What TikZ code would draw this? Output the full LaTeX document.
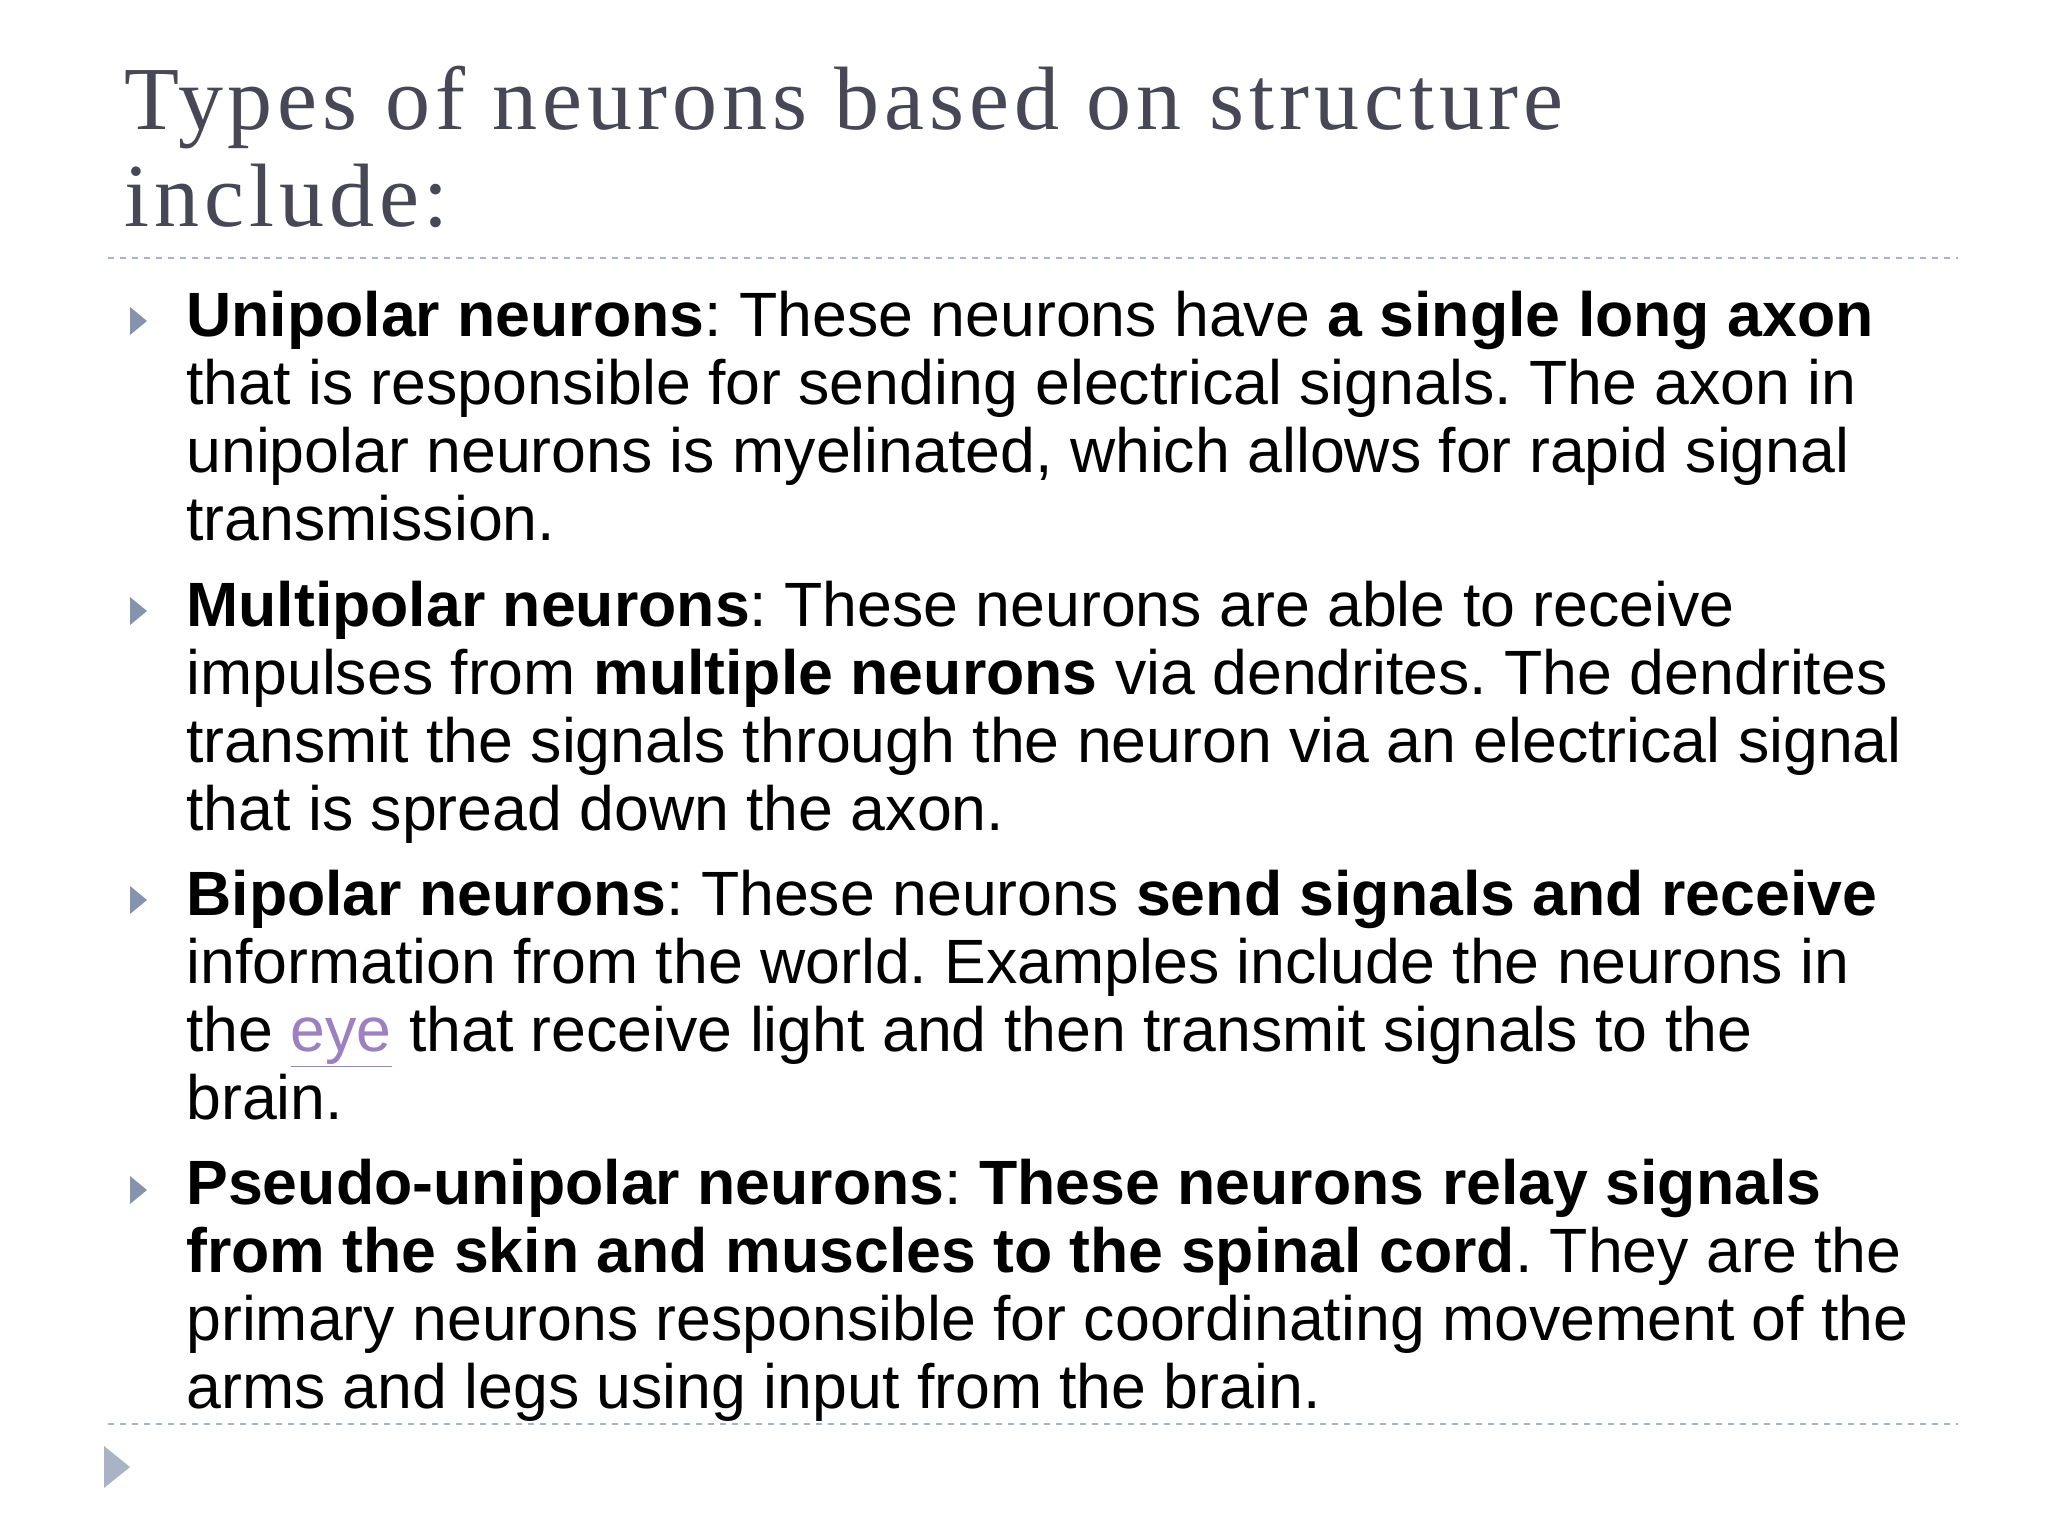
\documentclass[tikz,border=0pt]{standalone}
\usepackage{fontspec}
\setmainfont{Liberation Sans}
\newfontfamily\titlefont[LetterSpace=5.5]{Liberation Serif}
\definecolor{titlec}{HTML}{474756}
\definecolor{bulc}{HTML}{8593AE}
\definecolor{dashc}{HTML}{A9B3C6}
\definecolor{linkc}{HTML}{9C80C0}
\frenchspacing
\begin{document}
\begin{tikzpicture}[x=0.5pt,y=-0.5pt,
  ln/.style={anchor=base west,inner sep=0pt,font=\frenchspacing\fontsize{31.3pt}{35pt}\selectfont},
  tl/.style={anchor=base west,inner sep=0pt,font=\titlefont\fontsize{45pt}{50pt}\selectfont,text=titlec},
  bul/.style={fill=bulc}]
\useasboundingbox[fill=white] (0,0) rectangle (2048,1536);
\node[tl] (t1) at (124,129) {Types of neurons based on structure};
\node[tl] (t2) at (124,226) {include:};
\draw[dashc,dashed,line width=1pt] (108,258) -- (1958,258);
\draw[dashc,dashed,line width=1pt] (108,1424) -- (1958,1424);
\foreach \y in {321,611,900,1190}{\fill[bul] (130,\y-14) -- (147,\y) -- (130,\y+14) -- cycle;}
\fill[dashc] (104,1446) -- (130,1467) -- (104,1488) -- cycle;
\node[ln] (a1) at (186,336) {\textbf{Unipolar neurons}: These neurons have \textbf{a single long axon}};
\node[ln] (a2) at (186,404) {that is responsible for sending electrical signals. The axon in};
\node[ln] (a3) at (186,472) {unipolar neurons is myelinated, which allows for rapid signal};
\node[ln] (a4) at (186,540) {transmission.};
\node[ln] (b1) at (186,626) {\textbf{Multipolar neurons}: These neurons are able to receive};
\node[ln] (b2) at (186,694) {impulses from \textbf{multiple neurons} via dendrites. The dendrites};
\node[ln] (b3) at (186,762) {transmit the signals through the neuron via an electrical signal};
\node[ln] (b4) at (186,830) {that is spread down the axon.};
\node[ln] (c1) at (186,915) {\textbf{Bipolar neurons}: These neurons \textbf{send signals and receive}};
\node[ln] (c2) at (186,983) {information from the world. Examples include the neurons in};
\node[ln] (c3) at (186,1051) {the \textcolor{linkc}{\underline{eye}} that receive light and then transmit signals to the};
\node[ln] (c4) at (186,1119) {brain.};
\node[ln] (d1) at (186,1204) {\textbf{Pseudo-unipolar neurons}: \textbf{These neurons relay signals}};
\node[ln] (d2) at (186,1272) {\textbf{from the skin and muscles to the spinal cord}. They are the};
\node[ln] (d3) at (186,1340) {primary neurons responsible for coordinating movement of the};
\node[ln] (d4) at (186,1408) {arms and legs using input from the brain.};
\end{tikzpicture}
\end{document}
